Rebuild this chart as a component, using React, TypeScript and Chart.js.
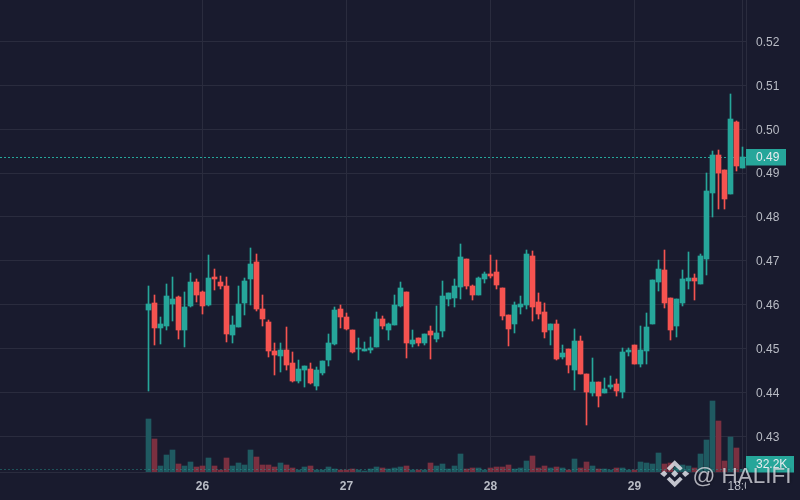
import React, { useEffect, useRef } from "react";
import { Chart, registerables } from "chart.js";

Chart.register(...registerables);

const opens = [
  .45881,.46041,.45472,.45517,.46018,.46178,.45426,.45973,.46519,.46292,
  .45995,.46633,.46519,.46428,.45312,.45494,.46041,.46588,.46975,.45904,
  .45608,.44948,.44834,.44970,.44674,.44264,.44514,.44537,.44150,.44447,
  .44742,.45107,.45904,.45722,.45426,.44993,.44948,.44970,.45039,.45677,
  .45426,.45540,.45973,.46292,.45107,.45244,.45130,.45403,.45221,.45403,
  .46132,.46155,.46405,.47043,.46428,.46223,.46588,.46702,.46747,.46383,
  .45768,.45563,.45950,.45995,.47112,.46064,.45836,.45426,.45563,.44811,
  .44993,.44514,.45175,.44424,.43991,.44241,.43991,.44127,.44196,.44013,
  .44925,.45084,.44651,.44948,.45563,.46519,.46793,.46155,.45517,.46041,
  .46542,.46610,.46474,.47043,.48547,.49412,.49071,.48524,.50164,.49116,
];
const highs = [
  .46428,.46223,.45722,.46474,.46633,.46200,.46292,.46724,.46588,.46314,
  .47134,.46815,.46656,.46633,.45745,.46428,.46610,.47294,.47157,.46223,
  .45654,.45130,.45130,.45494,.44925,.44742,.44606,.44674,.44583,.44720,
  .45335,.45950,.45995,.45813,.45426,.45244,.45153,.45267,.45836,.45745,
  .45585,.46223,.46519,.46292,.45426,.45244,.45335,.45517,.45973,.46542,
  .46269,.46588,.47385,.47043,.46451,.46633,.46747,.47134,.47020,.46383,
  .45768,.46064,.46200,.47248,.47226,.46269,.46041,.45563,.45654,.45084,
  .44993,.45449,.45289,.44424,.44788,.44241,.44333,.44378,.44310,.45016,
  .45016,.45084,.45517,.45813,.46565,.47020,.47248,.46155,.46132,.46793,
  .47203,.46702,.47157,.49002,.49503,.49526,.49071,.50802,.50187,.49594,
];
const lows = [
  .44036,.45084,.45107,.45426,.45631,.45221,.45039,.45950,.46064,.45790,
  .45973,.46337,.46360,.45153,.45130,.45494,.45768,.45995,.45859,.45517,
  .44811,.44401,.44469,.44514,.44241,.44219,.44127,.44196,.44059,.44401,
  .44606,.45084,.45472,.45426,.44902,.44742,.44948,.44902,.45039,.45449,
  .45198,.45540,.45950,.44788,.45039,.45062,.45084,.44765,.45153,.45267,
  .45973,.45950,.46132,.46360,.46109,.46223,.46496,.46610,.46360,.45654,
  .45062,.45358,.45790,.45904,.45631,.45677,.45244,.45084,.44742,.44765,
  .44447,.44059,.44424,.43262,.43922,.43672,.43991,.44082,.43922,.43877,
  .44834,.44651,.44583,.44651,.45563,.46314,.45927,.45198,.45267,.45973,
  .46360,.46109,.46474,.46679,.48000,.48182,.48182,.48524,.49048,.49116,
];
const closes = [
  .46018,.45472,.45563,.46200,.46132,.45426,.45950,.46519,.46223,.45973,
  .46610,.46588,.46428,.45335,.45540,.46018,.46542,.46929,.45904,.45677,
  .44948,.44856,.44970,.44628,.44264,.44537,.44606,.44219,.44514,.44720,
  .45130,.45881,.45722,.45449,.44925,.45016,.44993,.45016,.45677,.45517,
  .45563,.45995,.46383,.45130,.45198,.45130,.45335,.45312,.45358,.46200,
  .46269,.46428,.47089,.46428,.46223,.46610,.46702,.46656,.46451,.45745,
  .45449,.45995,.46018,.47157,.45950,.45790,.45381,.45563,.44765,.44902,
  .44628,.45175,.44424,.44013,.44241,.43922,.44082,.44173,.44036,.44925,
  .44970,.44651,.44970,.45494,.46565,.46815,.46041,.45426,.46132,.46588,
  .46610,.46542,.47112,.48592,.49412,.49002,.48410,.50232,.49162,.49367,
];
const volumesK = [
  742,462,84,238,308,112,84,140,70,84,
  196,84,28,196,84,126,98,308,210,98,
  98,70,126,98,56,28,70,84,28,28,
  70,42,28,28,42,28,14,42,70,56,
  42,56,70,84,28,28,28,126,84,112,
  42,84,252,42,56,56,28,56,70,70,
  98,42,56,154,224,56,84,56,70,56,
  28,182,56,140,84,42,42,28,56,56,
  28,28,140,126,112,266,112,126,70,98,
  84,56,252,448,994,714,154,490,336,32.2,
];
const firstHour = 15;
const dayTicks = [24, 48, 72, 96];
const dayLabels = ["26", "27", "28", "29"];
const timeTick = 114;
const timeLabel = "18:00";
const priceTicks = [0.43, 0.44, 0.45, 0.46, 0.47, 0.48, 0.49, 0.5, 0.51, 0.52];
const lastPrice = 0.49367;
const lastPriceLabel = "0.49";
const lastVolumeK = 32.2;
const lastVolumeLabel = "32.2K";
const watermarkText = "@ HALIFI";

const BG = "#191b2e";
const GRID = "#2a2c3e";
const UP = "#26a69a";
const DOWN = "#f55350";
const UP_VOL = "#1f5a61";
const DOWN_VOL = "#7a3040";
const AXIS_TEXT = "#b9bcc5";
const FONT = "'Liberation Sans'";

const hours = opens.map((_, i) => firstHour + i);
const isUp = opens.map((o, i) => closes[i] >= o);
const candleColors = isUp.map((u) => (u ? UP : DOWN));
const volumeColors = isUp.map((u) => (u ? UP_VOL : DOWN_VOL));

const overlay = {
  id: "overlay",
  beforeDatasetsDraw(chart: any) {
    const { ctx, chartArea, scales } = chart;
    const y = Math.round(scales.y.getPixelForValue(lastPrice)) + 0.5;
    ctx.save();
    ctx.strokeStyle = UP;
    ctx.lineWidth = 1;
    ctx.setLineDash([2, 2]);
    ctx.beginPath();
    ctx.moveTo(chartArea.left, y);
    ctx.lineTo(chartArea.right, y);
    ctx.stroke();
    ctx.restore();
  },
  afterDatasetsDraw(chart: any) {
    const { ctx, chartArea, scales } = chart;
    const y = Math.floor(scales.vol.getPixelForValue(lastVolumeK)) + 0.5;
    ctx.save();
    ctx.strokeStyle = "rgba(38,166,154,0.4)";
    ctx.lineWidth = 1;
    ctx.setLineDash([2, 2]);
    ctx.beginPath();
    ctx.moveTo(chartArea.left, y);
    ctx.lineTo(chartArea.right, y);
    ctx.stroke();
    ctx.restore();
  },
  afterDraw(chart: any) {
    const { ctx, chartArea, scales, width, height } = chart;
    ctx.save();
    // the time axis is cut off where the price axis begins
    ctx.fillStyle = BG;
    ctx.fillRect(chartArea.right, chartArea.bottom + 1, width - chartArea.right, height - chartArea.bottom - 1);

    const labelBox = (text: string, cy: number, w: number) => {
      ctx.fillStyle = UP;
      ctx.fillRect(chartArea.right, cy - 8, w, 16.5);
      ctx.fillStyle = "#e8ecef";
      ctx.font = `12px ${FONT}`;
      ctx.textAlign = "left";
      ctx.textBaseline = "middle";
      ctx.fillText(text, chartArea.right + 10, cy + 1);
    };
    labelBox(lastPriceLabel, Math.round(scales.y.getPixelForValue(lastPrice)), 40);
    labelBox(lastVolumeLabel, Math.round(scales.vol.getPixelForValue(lastVolumeK)) - 6, 48);

    // watermark
    const cx = 674.7;
    const cy = 473.7;
    ctx.fillStyle = "rgba(232,233,240,0.82)";
    const poly = (pts: number[][]) => {
      ctx.beginPath();
      pts.forEach(([a, b], i) => (i ? ctx.lineTo(cx + a, cy + b) : ctx.moveTo(cx + a, cy + b)));
      ctx.closePath();
      ctx.fill();
    };
    poly([[0, -3.6], [3.6, 0], [0, 3.6], [-3.6, 0]]);
    poly([[-10.5, -3.2], [-7.3, 0], [-10.5, 3.2], [-14.6, 0]]);
    poly([[10.5, -3.2], [14.6, 0], [10.5, 3.2], [7.3, 0]]);
    poly([[0, -13.5], [8, -5.5], [5.2, -3], [0, -8], [-5.2, -3], [-8, -5.5]]);
    poly([[0, 13.5], [8, 5.5], [5.2, 3], [0, 8], [-5.2, 3], [-8, 5.5]]);
    ctx.shadowColor = "rgba(0,0,0,0.45)";
    ctx.shadowBlur = 2;
    ctx.shadowOffsetX = 1;
    ctx.fillStyle = "rgba(235,236,242,0.72)";
    ctx.font = `22.5px ${FONT}`;
    ctx.textAlign = "left";
    ctx.textBaseline = "alphabetic";
    ctx.fillText(watermarkText, 692.5, 483);
    ctx.restore();
  },
};

export default function App() {
  const ref = useRef<HTMLCanvasElement | null>(null);
  useEffect(() => {
    const chart = new Chart(ref.current as HTMLCanvasElement, {
      type: "bar",
      data: {
        datasets: [
          {
            label: "Volume",
            xAxisID: "x",
            yAxisID: "vol",
            data: hours.map((h, i) => ({ x: h, y: volumesK[i] })),
            backgroundColor: volumeColors,
            barThickness: 5,
            grouped: false,
            order: 3,
          },
          {
            label: "Range",
            xAxisID: "x",
            yAxisID: "y",
            data: hours.map((h, i) => ({ x: h, y: [lows[i], highs[i]] })),
            backgroundColor: candleColors,
            barThickness: 1,
            grouped: false,
            order: 2,
          },
          {
            label: "Open / close",
            xAxisID: "x",
            yAxisID: "y",
            data: hours.map((h, i) => ({ x: h, y: [opens[i], closes[i]] })),
            backgroundColor: candleColors,
            barThickness: 5,
            grouped: false,
            order: 1,
          },
        ],
      } as any,
      options: {
        responsive: false,
        animation: false,
        devicePixelRatio: 1,
        layout: { padding: 0 },
        plugins: { legend: { display: false }, tooltip: { enabled: false } },
        scales: {
          x: {
            type: "linear",
            offset: false,
            min: -9.75,
            max: 114.5833,
            afterBuildTicks: (s: any) => {
              s.ticks = [...dayTicks, timeTick].map((value) => ({ value }));
            },
            afterFit: (s: any) => {
              s.height = 28;
              s.paddingLeft = 0;
              s.paddingRight = 0;
            },
            grid: { color: GRID, drawTicks: false, lineWidth: 1, offset: false },
            border: { color: GRID, width: 1 },
            ticks: {
              autoSkip: false,
              maxRotation: 0,
              padding: 7,
              color: AXIS_TEXT,
              font: (c: any) => ({
                family: FONT,
                size: 12,
                weight: c.tick && c.tick.value !== timeTick ? "bold" : "normal",
              }),
              callback: (v: any) => (v === timeTick ? timeLabel : dayLabels[dayTicks.indexOf(v)]),
            },
          },
          y: {
            type: "linear",
            position: "right",
            min: 0.421913,
            max: 0.52943,
            afterBuildTicks: (s: any) => {
              s.ticks = priceTicks.map((value) => ({ value }));
            },
            afterFit: (s: any) => {
              s.width = 54;
              s.paddingTop = 0;
              s.paddingBottom = 0;
            },
            grid: { color: GRID, drawTicks: false, lineWidth: 1 },
            border: { color: GRID, width: 1 },
            ticks: {
              padding: 10,
              labelOffset: 1,
              color: AXIS_TEXT,
              font: { family: FONT, size: 12 },
              callback: (v: any) => Number(v).toFixed(2),
            },
          },
          vol: {
            type: "linear",
            display: false,
            min: 0,
            max: 6608,
          },
        },
      } as any,
      plugins: [overlay],
    });
    return () => chart.destroy();
  }, []);

  return (
    <div style={{ position: "fixed", left: 0, top: 0, width: 800, height: 500, background: BG }}>
      <canvas ref={ref} width={800} height={500} style={{ display: "block" }} />
    </div>
  );
}
